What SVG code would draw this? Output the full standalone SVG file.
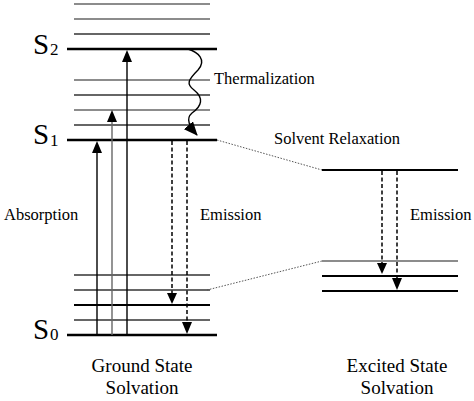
<svg xmlns="http://www.w3.org/2000/svg" width="474" height="401" viewBox="0 0 474 401">
<style>
.thick{stroke:#000;stroke-width:2.6;fill:none}
.thin{stroke:#333;stroke-width:1.3;fill:none}
.lt{stroke:#666;stroke-width:1.3;fill:none}
.arr{stroke:#000;stroke-width:1.4;fill:none}
.gar{stroke:#666;stroke-width:1.4;fill:none}
.dash{stroke:#000;stroke-width:1.5;fill:none;stroke-dasharray:4 2.5}
.dot{stroke:#555;stroke-width:1;fill:none;stroke-dasharray:1.5 1.5}
.head{fill:#000}
text{font-family:"Liberation Serif",serif;fill:#000}
.lbl{font-size:16.5px}
.big{font-size:29px}
.sub{font-size:17px}
.cap{font-size:19px;text-anchor:middle}
</style>
<defs>
<marker id="wh" viewBox="0 0 14 12" refX="13" refY="6" markerWidth="14" markerHeight="12" markerUnits="userSpaceOnUse" orient="auto">
<path d="M0,0 L14,6 L0,12 Z" fill="#000"/>
</marker>
</defs>
<g id="ground-levels">
<line class="lt" x1="74" y1="4" x2="210" y2="4"/>
<line class="lt" x1="74" y1="19" x2="210" y2="19"/>
<line class="thin" x1="74" y1="34" x2="210" y2="34"/>
<line class="thick" x1="67" y1="49" x2="217" y2="49"/>
<line class="lt" x1="74" y1="80" x2="210" y2="80"/>
<line class="thin" x1="74" y1="95" x2="210" y2="95"/>
<line class="lt" x1="74" y1="110" x2="210" y2="110"/>
<line class="thin" x1="74" y1="125" x2="210" y2="125"/>
<line class="thick" x1="67" y1="140" x2="217" y2="140"/>
<line class="thin" x1="74" y1="275" x2="210" y2="275"/>
<line class="thin" x1="74" y1="290" x2="210" y2="290"/>
<line class="thick" x1="74" y1="305" x2="210" y2="305" style="stroke-width:1.8"/>
<line class="thin" x1="74" y1="320" x2="210" y2="320"/>
<line class="thick" x1="67" y1="335" x2="217" y2="335"/>
</g>
<g id="excited-levels">
<line class="thick" x1="322" y1="170" x2="458" y2="170" style="stroke-width:1.8"/>
<line class="lt" x1="322" y1="261" x2="458" y2="261"/>
<line class="thick" x1="322" y1="276" x2="458" y2="276" style="stroke-width:1.8"/>
<line class="thick" x1="322" y1="291" x2="458" y2="291" style="stroke-width:1.8"/>
</g>
<g id="labels">
<text class="big" x="33" y="54">S</text><text class="sub" x="50" y="55">2</text>
<text class="big" x="33" y="144">S</text><text class="sub" x="50" y="146">1</text>
<text class="big" x="33" y="339">S</text><text class="sub" x="50" y="340">0</text>
<text class="lbl" x="214" y="84">Thermalization</text>
<text class="lbl" x="274" y="144">Solvent Relaxation</text>
<text class="lbl" x="4" y="220">Absorption</text>
<text class="lbl" x="200" y="220">Emission</text>
<text class="lbl" x="410" y="220">Emission</text>
<text class="cap" x="142" y="372">Ground State</text>
<text class="cap" x="142" y="394">Solvation</text>
<text class="cap" x="397" y="372">Excited State</text>
<text class="cap" x="397" y="394">Solvation</text>
</g>
<g id="connectors">
<line class="arr" x1="97" y1="335" x2="97" y2="152"/>
<path class="head" d="M92,153 L102,153 L97,141 Z"/>
<line class="gar" x1="112" y1="335" x2="112" y2="121"/>
<path class="head" d="M107,122 L117,122 L112,110 Z"/>
<line class="arr" x1="127" y1="335" x2="127" y2="61"/>
<path class="head" d="M122,62 L132,62 L127,50 Z"/>
<line class="dash" x1="172" y1="141" x2="172" y2="294"/>
<path class="head" d="M167,293 L177,293 L172,304 Z"/>
<line class="dash" x1="187" y1="141" x2="187" y2="323"/>
<path class="head" d="M182,322 L192,322 L187,334 Z"/>
<line class="dash" x1="382" y1="171" x2="382" y2="263"/>
<path class="head" d="M377,263 L387,263 L382,274 Z"/>
<line class="dash" x1="397" y1="171" x2="397" y2="278"/>
<path class="head" d="M392,278 L402,278 L397,290 Z"/>
<path class="arr" d="M188,49 C198,52 207,60 198,70 C188,80 186,84 194,90 C204,98 202,106 192,113 C185,119 190,127 197,135" marker-end="url(#wh)"/>
<line class="dot" x1="217" y1="140" x2="322" y2="170"/>
<line class="dot" x1="207" y1="290" x2="322" y2="261"/>
</g>
</svg>
